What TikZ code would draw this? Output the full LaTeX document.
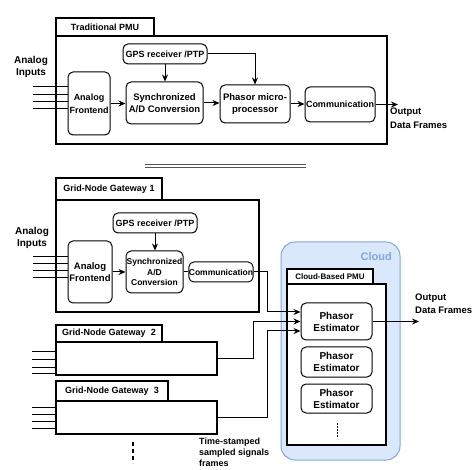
\documentclass[tikz,border=0pt]{standalone}
\usepackage{fontspec}
\setmainfont{Liberation Sans}
\usetikzlibrary{arrows.meta,calc}
\definecolor{cloudfill}{HTML}{DAE8FC}
\definecolor{cloudline}{HTML}{7EA6E0}
\definecolor{dbl}{HTML}{555555}
\begin{document}
\begin{tikzpicture}[x=1pt,y=-1pt,
  fs/.style={font=\fontsize{#1}{\dimexpr #1pt*6/5\relax}\selectfont\bfseries},
  container/.style={draw,line width=1.5pt,fill=white,inner sep=0pt,minimum width=#1},
  tabbox/.style={draw,line width=1.5pt,fill=white,inner sep=0pt,fs=9},
  blk/.style={draw,line width=1pt,rounded corners=5pt,fill=white,inner sep=0pt,align=center,fs=9},
  arr/.style={line width=1pt,-{Stealth[length=7pt,width=6pt]}},
  wire/.style={line width=1pt},
  lbl/.style={inner sep=0pt,align=center,fs=10},
]
\useasboundingbox (0,0) rectangle (474,470);

% ---------------- Traditional PMU ----------------
\node[container=331,minimum height=108] (box1) at (221.5,90) {};
\node[tabbox,minimum width=98,minimum height=18] (tab1) at (105,27) {Traditional PMU};
\node[blk,minimum width=42,minimum height=63] (AF1) at (89,103.5) {Analog\\[2pt]Frontend};
\node[blk,minimum width=84,minimum height=20] (GPS1) at (165,54) {GPS receiver /PTP};
\node[blk,minimum width=77,minimum height=42,fs=9.5] (SYNC1) at (164.5,103) {Synchronized\\A/D Conversion};
\node[blk,minimum width=70,minimum height=38,fs=9.5] (PH1) at (255,104) {Phasor micro-\\processor};
\node[blk,minimum width=70,minimum height=35,fs=9] (COM1) at (340,104.5) {Communication};
\node[lbl,align=center] (ai1) at (31,67) {Analog\\Inputs};
\node[lbl,align=left,anchor=north west,fs=9.5] (odf1) at (390,108) {Output\\[2pt]Data Frames};
\coordinate (out1) at (398,104.5);

\foreach \y in {87,94.3,101.7,109} \draw[wire] (33,\y) -- (AF1.west |- 0,\y);
\draw[arr] (AF1.east) -- (AF1.east -| SYNC1.west);
\draw[arr] (GPS1.south) -- (GPS1.south |- SYNC1.north);
\draw[arr] (GPS1.east) -| (PH1.north);
\draw[arr] (SYNC1.east) -- (SYNC1.east -| PH1.west);
\draw[arr] (PH1.east) -- (PH1.east -| COM1.west);
\draw[arr] (COM1.east) -- (out1);

% ---------------- separator ----------------
\coordinate (sepL) at (145,166);
\coordinate (sepR) at (306,166);
\draw[dbl,double,double distance=2pt,line width=0.8pt] (sepL) -- (sepR);

% ---------------- Cloud ----------------
\node[draw=cloudline,line width=1pt,fill=cloudfill,rounded corners=14pt,minimum width=119,minimum height=218,inner sep=0pt] (cloud) at (340.5,351) {};
\node[inner sep=0pt,anchor=east,text=cloudline,fs=11] (cloudlbl) at (392,257) {Cloud};
\node[container=99,minimum height=161] (pmu) at (336.5,364.5) {};
\node[tabbox,minimum width=86,minimum height=15,fs=8] (pmutab) at (330,276.5) {Cloud-Based PMU};
\node[blk,minimum width=71,minimum height=37,fs=10] (PE1) at (336.5,321.5) {Phasor\\Estimator};
\node[blk,minimum width=71,minimum height=30,fs=10] (PE2) at (336.5,362) {Phasor\\Estimator};
\node[blk,minimum width=71,minimum height=29,fs=10] (PE3) at (336.5,398.5) {Phasor\\Estimator};
\coordinate (dotT) at (337,423);
\coordinate (dotB) at (337,438);
\draw[line width=0.8pt,dash pattern=on 1.5pt off 1.5pt] (dotT) -- (dotB);
\coordinate (out2) at (419,321.5);
\draw[arr] (PE1.east) -- (out2);
\node[lbl,align=left,anchor=north west,fs=9.5] (odf2) at (415,294) {Output\\[1pt]Data Frames};

% ---------------- Gateway 1 ----------------
\node[container=203,minimum height=112] (gw1) at (157.5,256) {};
\node[tabbox,minimum width=106,minimum height=22] (gw1tab) at (109,189) {Grid-Node Gateway 1};
\node[blk,minimum width=44,minimum height=62,fs=9.5] (AF2) at (90,272) {Analog\\Frontend};
\node[blk,minimum width=84,minimum height=20] (GPS2) at (155,223) {GPS receiver /PTP};
\node[blk,minimum width=57,minimum height=42,fs=8.5] (SYNC2) at (154.5,272) {Synchronized\\A/D\\Conversion};
\node[blk,minimum width=64,minimum height=20,fs=8.5] (COM2) at (221,272) {Communication};
\node[lbl,align=center] (ai2) at (32,237.5) {Analog\\Inputs};
\foreach \y in {257,264,271,278} \draw[wire] (33,\y) -- (AF2.west |- 0,\y);
\draw[arr] (AF2.east) -- (AF2.east -| SYNC2.west);
\draw[arr] (GPS2.south) -- (GPS2.south |- SYNC2.north);
\draw[wire] (SYNC2.east) -- (SYNC2.east -| COM2.west);
\draw[arr] (COM2.east) -- ++(14,0) |- ([yshift=9.5pt]PE1.west);

% ---------------- Gateway 2 ----------------
\node[container=161,minimum height=33] (gw2) at (136.5,358.5) {};
\node[tabbox,minimum width=106,minimum height=17] (gw2tab) at (109,333.5) {Grid-Node Gateway\ \ 2};
\foreach \y in {352,359.5,367,373.5} \draw[wire] (32,\y) -- (gw2.west |- 0,\y);
\draw[arr] (gw2.east) -- ++(36,0) |- (PE1.west);

% ---------------- Gateway 3 ----------------
\node[container=161,minimum height=33] (gw3) at (136.5,417.5) {};
\node[tabbox,minimum width=112,minimum height=20] (gw3tab) at (112,391) {Grid-Node Gateway\ \ 3};
\foreach \y in {407,414,421,428} \draw[wire] (32,\y) -- (gw3.west |- 0,\y);
\draw[arr] (gw3.east) -- ++(50,0) |- ([yshift=-9.5pt]PE1.west);

\coordinate (dashT) at (133,442);
\coordinate (dashB) at (133,463);
\draw[line width=1.6pt,dash pattern=on 4pt off 3pt] (dashT) -- (dashB);
\node[inner sep=0pt,align=left,anchor=north west,fs=9] (ts) at (199,438) {Time-stamped\\sampled signals\\frames};
\end{tikzpicture}
\end{document}
